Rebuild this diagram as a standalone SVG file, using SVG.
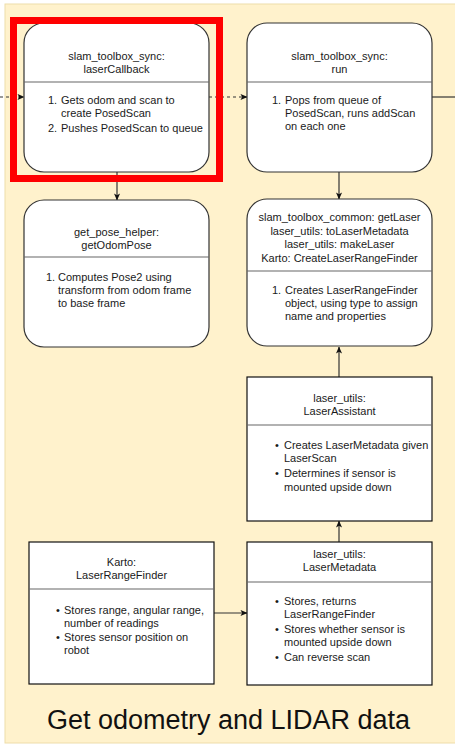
<svg xmlns="http://www.w3.org/2000/svg" width="455" height="754" viewBox="0 0 455 754">
<style>
text{font-family:"Liberation Sans",Arial,Helvetica,sans-serif;font-size:11px;fill:#1a1a1a}
.c{text-anchor:middle}
.rn{fill:#fff;stroke:#333;stroke-width:1.2}
.sn{fill:#fff;stroke:#111;stroke-width:1.2}
.dv{stroke:#666;stroke-width:1.2}
.ln{fill:none;stroke:#333;stroke-width:1.2}
.dash{stroke-dasharray:3 3}
.big{font-size:27px;fill:#111}
</style>
<defs>
<marker id="ah" viewBox="0 0 8 8" refX="7.5" refY="4" markerWidth="7" markerHeight="7" markerUnits="userSpaceOnUse" orient="auto">
<path d="M0,0.5 L8,4 L0,7.5 L2,4 Z" fill="#111"/>
</marker>
</defs>
<rect x="5" y="4" width="460" height="739" fill="#FFF2CC" stroke="#EEDDAA" stroke-width="1"/>

<g id="connectors">
<line class="ln dash" x1="0" y1="97" x2="24" y2="97" marker-end="url(#ah)"/>
<line class="ln dash" x1="209" y1="97" x2="247" y2="97" marker-end="url(#ah)"/>
<line class="ln" x1="432" y1="97" x2="455" y2="97"/>
<line class="ln" x1="117" y1="172" x2="117" y2="200" marker-end="url(#ah)"/>
<line class="ln" x1="339" y1="172" x2="339" y2="199" marker-end="url(#ah)"/>
<line class="ln" x1="339" y1="377" x2="339" y2="347" marker-end="url(#ah)"/>
<line class="ln" x1="339" y1="542" x2="339" y2="521" marker-end="url(#ah)"/>
<line class="ln" x1="214" y1="613" x2="247" y2="613" marker-end="url(#ah)"/>
</g>

<g id="node-laserCallback">
<rect class="rn" x="24" y="23" width="185" height="149" rx="20"/>
<line class="dv" x1="24" y1="82" x2="209" y2="82"/>
<text class="c" x="116.5" y="60">slam_toolbox_sync:</text>
<text class="c" x="116.5" y="73">laserCallback</text>
<text x="48" y="104">1.</text><text x="61" y="104">Gets odom and scan to</text>
<text x="61" y="117">create PosedScan</text>
<text x="48" y="132">2.</text><text x="61" y="132">Pushes PosedScan to queue</text>
</g>

<g id="node-run">
<rect class="rn" x="247" y="23" width="185" height="149" rx="20"/>
<line class="dv" x1="247" y1="82" x2="432" y2="82"/>
<text class="c" x="339.5" y="60">slam_toolbox_sync:</text>
<text class="c" x="339.5" y="73">run</text>
<text x="272" y="104">1.</text><text x="285" y="104">Pops from queue of</text>
<text x="285" y="117">PosedScan, runs addScan</text>
<text x="285" y="130">on each one</text>
</g>

<g id="node-getOdomPose">
<rect class="rn" x="24" y="200" width="185" height="147" rx="20"/>
<line class="dv" x1="24" y1="257" x2="209" y2="257"/>
<text class="c" x="116.5" y="236">get_pose_helper:</text>
<text class="c" x="116.5" y="249">getOdomPose</text>
<text x="46" y="281">1.</text><text x="58" y="281">Computes Pose2 using</text>
<text x="58" y="294">transform from odom frame</text>
<text x="58" y="307">to base frame</text>
</g>

<g id="node-getLaser">
<rect class="rn" x="247" y="199" width="185" height="147" rx="20"/>
<line class="dv" x1="247" y1="271" x2="432" y2="271"/>
<text class="c" x="339.5" y="221">slam_toolbox_common: getLaser</text>
<text class="c" x="339.5" y="234.5">laser_utils: toLaserMetadata</text>
<text class="c" x="339.5" y="248">laser_utils: makeLaser</text>
<text class="c" x="339.5" y="261.5">Karto: CreateLaserRangeFinder</text>
<text x="272" y="294">1.</text><text x="285" y="294">Creates LaserRangeFinder</text>
<text x="285" y="307">object, using type to assign</text>
<text x="285" y="320">name and properties</text>
</g>

<g id="node-LaserAssistant">
<rect class="sn" x="247" y="377" width="185" height="144"/>
<line class="dv" x1="247" y1="425" x2="432" y2="425"/>
<text class="c" x="339.5" y="402">laser_utils:</text>
<text class="c" x="339.5" y="415">LaserAssistant</text>
<text x="275" y="449">•</text><text x="284" y="449">Creates LaserMetadata given</text>
<text x="284" y="462">LaserScan</text>
<text x="275" y="477">•</text><text x="284" y="477">Determines if sensor is</text>
<text x="284" y="491">mounted upside down</text>
</g>

<g id="node-LaserMetadata">
<rect class="sn" x="247" y="542" width="185" height="143"/>
<line class="dv" x1="247" y1="582" x2="432" y2="582"/>
<text class="c" x="339.5" y="558">laser_utils:</text>
<text class="c" x="339.5" y="571">LaserMetadata</text>
<text x="275" y="605">•</text><text x="284" y="605">Stores, returns</text>
<text x="284" y="618">LaserRangeFinder</text>
<text x="275" y="633">•</text><text x="284" y="633">Stores whether sensor is</text>
<text x="284" y="646">mounted upside down</text>
<text x="275" y="661">•</text><text x="284" y="661">Can reverse scan</text>
</g>

<g id="node-LaserRangeFinder">
<rect class="sn" x="29" y="542" width="185" height="142"/>
<line class="dv" x1="29" y1="589" x2="214" y2="589"/>
<text class="c" x="121.5" y="566">Karto:</text>
<text class="c" x="121.5" y="579">LaserRangeFinder</text>
<text x="56" y="614">•</text><text x="64" y="614">Stores range, angular range,</text>
<text x="64" y="627">number of readings</text>
<text x="56" y="641">•</text><text x="64" y="641">Stores sensor position on</text>
<text x="64" y="654">robot</text>
</g>

<text class="c big" x="228.5" y="729">Get odometry and LIDAR data</text>

<rect id="highlight" x="13.5" y="20.5" width="206" height="158" fill="none" stroke="#FF0000" stroke-width="7"/>
</svg>
